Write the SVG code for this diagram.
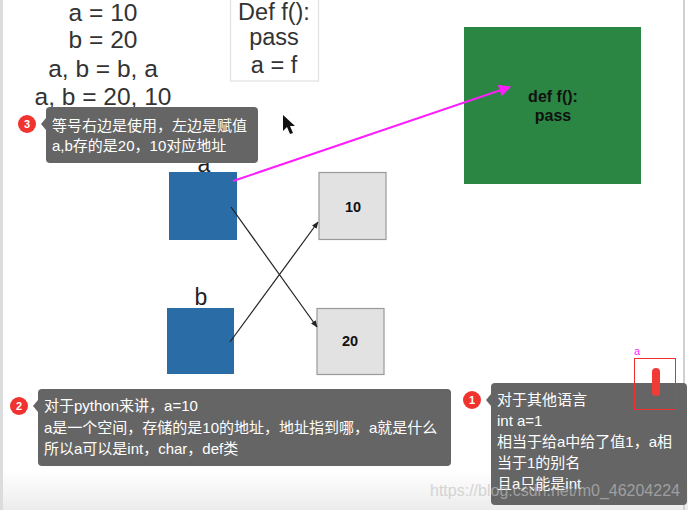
<svg xmlns="http://www.w3.org/2000/svg" width="688" height="510" viewBox="0 0 688 510">
<defs>
<style>
.code{font-family:"Liberation Sans",Arial,sans-serif;font-size:24.5px;fill:#333;text-anchor:middle}
.def{font-family:"Liberation Sans",Arial,sans-serif;font-size:23.5px;fill:#333;text-anchor:middle}
.lbl{font-family:"Liberation Sans",Arial,sans-serif;font-size:23px;fill:#222;text-anchor:middle}
.bold{font-family:"Liberation Sans",Arial,sans-serif;font-size:16px;font-weight:bold;fill:#111;text-anchor:middle}
.num{font-family:"Liberation Sans",Arial,sans-serif;font-size:14.5px;font-weight:bold;fill:#111;text-anchor:middle}
.tip{fill:#656565}
.tt{font-family:"Liberation Sans","Noto Sans CJK SC",sans-serif;font-size:15px;fill:#fff}
.badge{fill:#f0332f}
.bt{font-family:"Liberation Sans",Arial,sans-serif;font-size:11px;font-weight:bold;fill:#fff;text-anchor:middle}
.blue{fill:#2a6ca6}
.val{fill:#e2e2e2;stroke:#9a9a9a;stroke-width:1.2}
.conn{stroke:#222;stroke-width:1.2;fill:none}
</style>
<marker id="ah" viewBox="0 0 10 10" refX="9" refY="5" markerWidth="7" markerHeight="7" orient="auto" markerUnits="userSpaceOnUse">
<path d="M0,1 L10,5 L0,9 z" fill="#222"/>
</marker>
<marker id="mh" viewBox="0 0 10 10" refX="9" refY="5" markerWidth="15" markerHeight="12" orient="auto" markerUnits="userSpaceOnUse">
<path d="M0,0 L10,5 L0,10 z" fill="#ff1cff"/>
</marker>
<linearGradient id="bot" x1="0" y1="0" x2="0" y2="1">
<stop offset="0" stop-color="#ffffff"/>
<stop offset="1" stop-color="#ececec"/>
</linearGradient>
</defs>
<rect x="0" y="0" width="688" height="510" fill="#ffffff"/>
<rect x="0" y="470" width="688" height="40" fill="url(#bot)"/>
<rect x="0" y="0" width="3" height="510" fill="#dcdcdc"/>
<rect x="683" y="0" width="2" height="510" fill="#d0d0d0"/>

<g id="code">
<text class="code" x="103" y="21">a = 10</text>
<text class="code" x="103" y="48">b = 20</text>
<text class="code" x="103" y="77">a, b = b, a</text>
<text class="code" x="103" y="105">a, b = 20, 10</text>
</g>

<g id="defbox">
<rect x="230.5" y="-1" width="88" height="82" fill="#fff" stroke="#e2e2e2" stroke-width="1.2"/>
<text class="def" x="274" y="20">Def f():</text>
<text class="def" x="274" y="45">pass</text>
<text class="def" x="274" y="73">a = f</text>
</g>

<g id="green">
<rect x="464" y="27" width="177" height="157" fill="#2b8643"/>
<text class="bold" x="553" y="102">def f():</text>
<text class="bold" x="553" y="121">pass</text>
</g>

<g id="cursor">
<path d="M283,115 L283,131 L287,127 L290,134 L293,133 L290,126 L295,126 Z" fill="#111"/>
</g>

<g id="nodeA">
<text class="lbl" x="204" y="172">a</text>
<rect class="blue" x="169" y="172" width="68" height="68"/>
</g>
<g id="nodeB">
<text class="lbl" x="201" y="305">b</text>
<rect class="blue" x="167" y="308" width="67" height="66"/>
</g>
<g id="node10">
<rect class="val" x="319" y="172.5" width="67" height="67"/>
<text class="num" x="353" y="212">10</text>
</g>
<g id="node20">
<rect class="val" x="317" y="308.5" width="67" height="66"/>
<text class="num" x="350" y="346">20</text>
</g>

<g id="connectors">
<line class="conn" x1="231" y1="207" x2="317" y2="327" marker-end="url(#ah)"/>
<line class="conn" x1="230" y1="342" x2="318" y2="222" marker-end="url(#ah)"/>
<line x1="233" y1="181" x2="510" y2="87" stroke="#ff1cff" stroke-width="2" marker-end="url(#mh)"/>
</g>

<g id="tip3">
<rect class="tip" x="46" y="107" width="212" height="56" rx="4"/>
<path class="tip" d="M46,118 L41,124 L46,130 Z"/>
<circle class="badge" cx="27" cy="124" r="9"/>
<text class="bt" x="27" y="128">3</text>
<text class="tt" x="52" y="131">等号右边是使用，左边是赋值</text>
<text class="tt" x="52" y="151">a,b存的是20，10对应地址</text>
</g>

<g id="tip2">
<rect class="tip" x="38" y="389" width="413" height="77" rx="4"/>
<path class="tip" d="M38,400 L33,406 L38,412 Z"/>
<circle class="badge" cx="19" cy="406" r="9"/>
<text class="bt" x="19" y="410">2</text>
<text class="tt" x="44" y="411">对于python来讲，a=10</text>
<text class="tt" x="44" y="433">a是一个空间，存储的是10的地址，地址指到哪，a就是什么</text>
<text class="tt" x="44" y="454">所以a可以是int，char，def类</text>
</g>

<g id="tip1">
<rect class="tip" x="491" y="383" width="196" height="122" rx="4"/>
<path class="tip" d="M491,394 L486,400 L491,406 Z"/>
<circle class="badge" cx="472" cy="400" r="9"/>
<text class="bt" x="472" y="404">1</text>
<text class="tt" x="497" y="405">对于其他语言</text>
<text class="tt" x="497" y="426">int a=1</text>
<text class="tt" x="497" y="447">相当于给a中给了值1，a相</text>
<text class="tt" x="497" y="468">当于1的别名</text>
<text class="tt" x="497" y="489">且a只能是int</text>
</g>

<g id="marker-a">
<rect x="634.5" y="358.5" width="41" height="51" fill="none" stroke="#f03030" stroke-width="1"/>
<rect x="652" y="368" width="8" height="28" rx="4" fill="#f23a36"/>
<text x="634" y="355" font-family="Liberation Sans,Arial,sans-serif" font-size="11" fill="#ff1cff">a</text>
</g>

<text x="430" y="496" font-family="Liberation Sans,Arial,sans-serif" font-size="16" fill="#c1c1c1" opacity="0.63">https://blog.csdn.net/m0_46204224</text>
</svg>
